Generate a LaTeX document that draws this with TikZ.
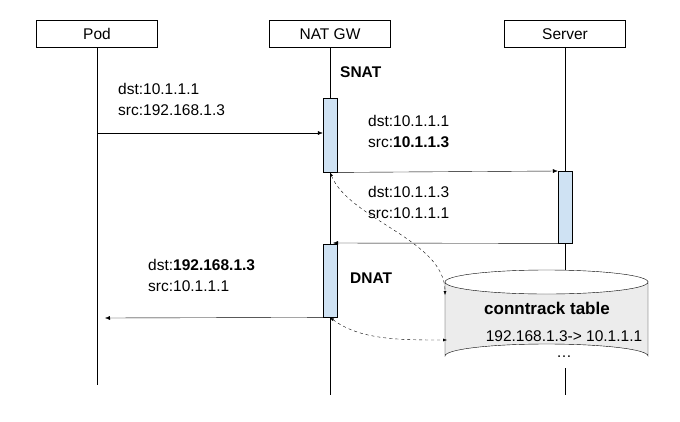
\documentclass[tikz,border=0pt]{standalone}
\usepackage{fontspec}
\setmainfont{Liberation Sans}
\usetikzlibrary{arrows.meta}
\definecolor{actfill}{HTML}{CFE2F3}

\begin{document}
\begin{tikzpicture}[x=1pt,y=-1pt,font=\fontsize{15.5}{21}\selectfont,
    actor/.style={draw, minimum width=121pt, minimum height=27pt, inner sep=0pt},
    act/.style={draw, fill=actfill, minimum width=14pt, inner sep=0pt, anchor=north},
    msg/.style={-{Latex[length=5pt,width=4pt]}},
    lbl/.style={align=left, anchor=north west, inner sep=0pt},
    link/.style={dashed, {Latex[length=4pt,width=3pt]}-{Latex[length=4pt,width=3pt]}}]
  \useasboundingbox (0,0) rectangle (680,421);

  % lifelines
  \node[actor] (pod) at (97,34) {Pod};
  \node[actor] (nat) at (330,34) {NAT GW};
  \node[actor] (srv) at (565,34) {Server};
  \coordinate (podend) at (97,385);
  \coordinate (natend) at (330,395);
  \coordinate (srvmid) at (565,270);
  \coordinate (srvlow) at (565,368);
  \coordinate (srvend) at (565,395);
  \draw (pod) -- (podend);
  \draw (nat) -- (natend);
  \draw (srv) -- (srvmid);
  \draw (srvlow) -- (srvend);

  % activations
  \node[act, minimum height=74pt] (snat) at (330,98) {};
  \node[act, minimum height=72pt] (reply) at (565,171) {};
  \node[act, minimum height=73pt] (dnat) at (330,244) {};

  % messages
  \coordinate (m1) at (97,133);
  \draw[msg] (m1) -- (snat.west |- m1);
  \draw[msg] (snat.south east) -- (reply.north west);
  \coordinate (m3) at (333,243);
  \draw[msg] (reply.south west) -- (m3);
  \coordinate (m4) at (105,318);
  \draw[msg] (dnat.south west) -- (m4);

  \node[lbl] (l1) at (118,83) {dst:10.1.1.1\\src:192.168.1.3};
  \node[lbl, font=\fontsize{15.5}{19}\selectfont\bfseries] (snatlbl) at (340,66) {SNAT};
  \node[lbl] (l2) at (368,115) {dst:10.1.1.1\\src:\textbf{10.1.1.3}};
  \node[lbl] (l3) at (368,186) {dst:10.1.1.3\\src:10.1.1.1};
  \node[lbl] (l4) at (148,259) {dst:\textbf{192.168.1.3}\\src:10.1.1.1};
  \node[lbl, font=\fontsize{15.5}{19}\selectfont\bfseries] (dnatlbl) at (350,273) {DNAT};

  % conntrack table
  \draw[fill=gray!15] (445,282) -- (445,356) arc[start angle=180, end angle=360, x radius=101.5, y radius=12]
    -- (648,282) arc[start angle=0, end angle=180, x radius=101.5, y radius=12];
  \draw (445,282) arc[start angle=180, end angle=360, x radius=101.5, y radius=12];
  \node[font=\fontsize{17}{20}\selectfont\bfseries] (ct) at (547,308) {conntrack table};
  \node[inner sep=0pt] (entry) at (564,336) {192.168.1.3-> 10.1.1.1};
  \node[inner sep=0pt] (more) at (564,357) {\dots};
  \coordinate (cttop) at (445,295);
  \coordinate (ctside) at (447,340);

  \draw[link] (snat.south) .. controls (350,220) and (445,240) .. (cttop);
  \draw[link] (dnat.south) .. controls (360,340) and (400,340) .. (ctside);
\end{tikzpicture}
\end{document}
